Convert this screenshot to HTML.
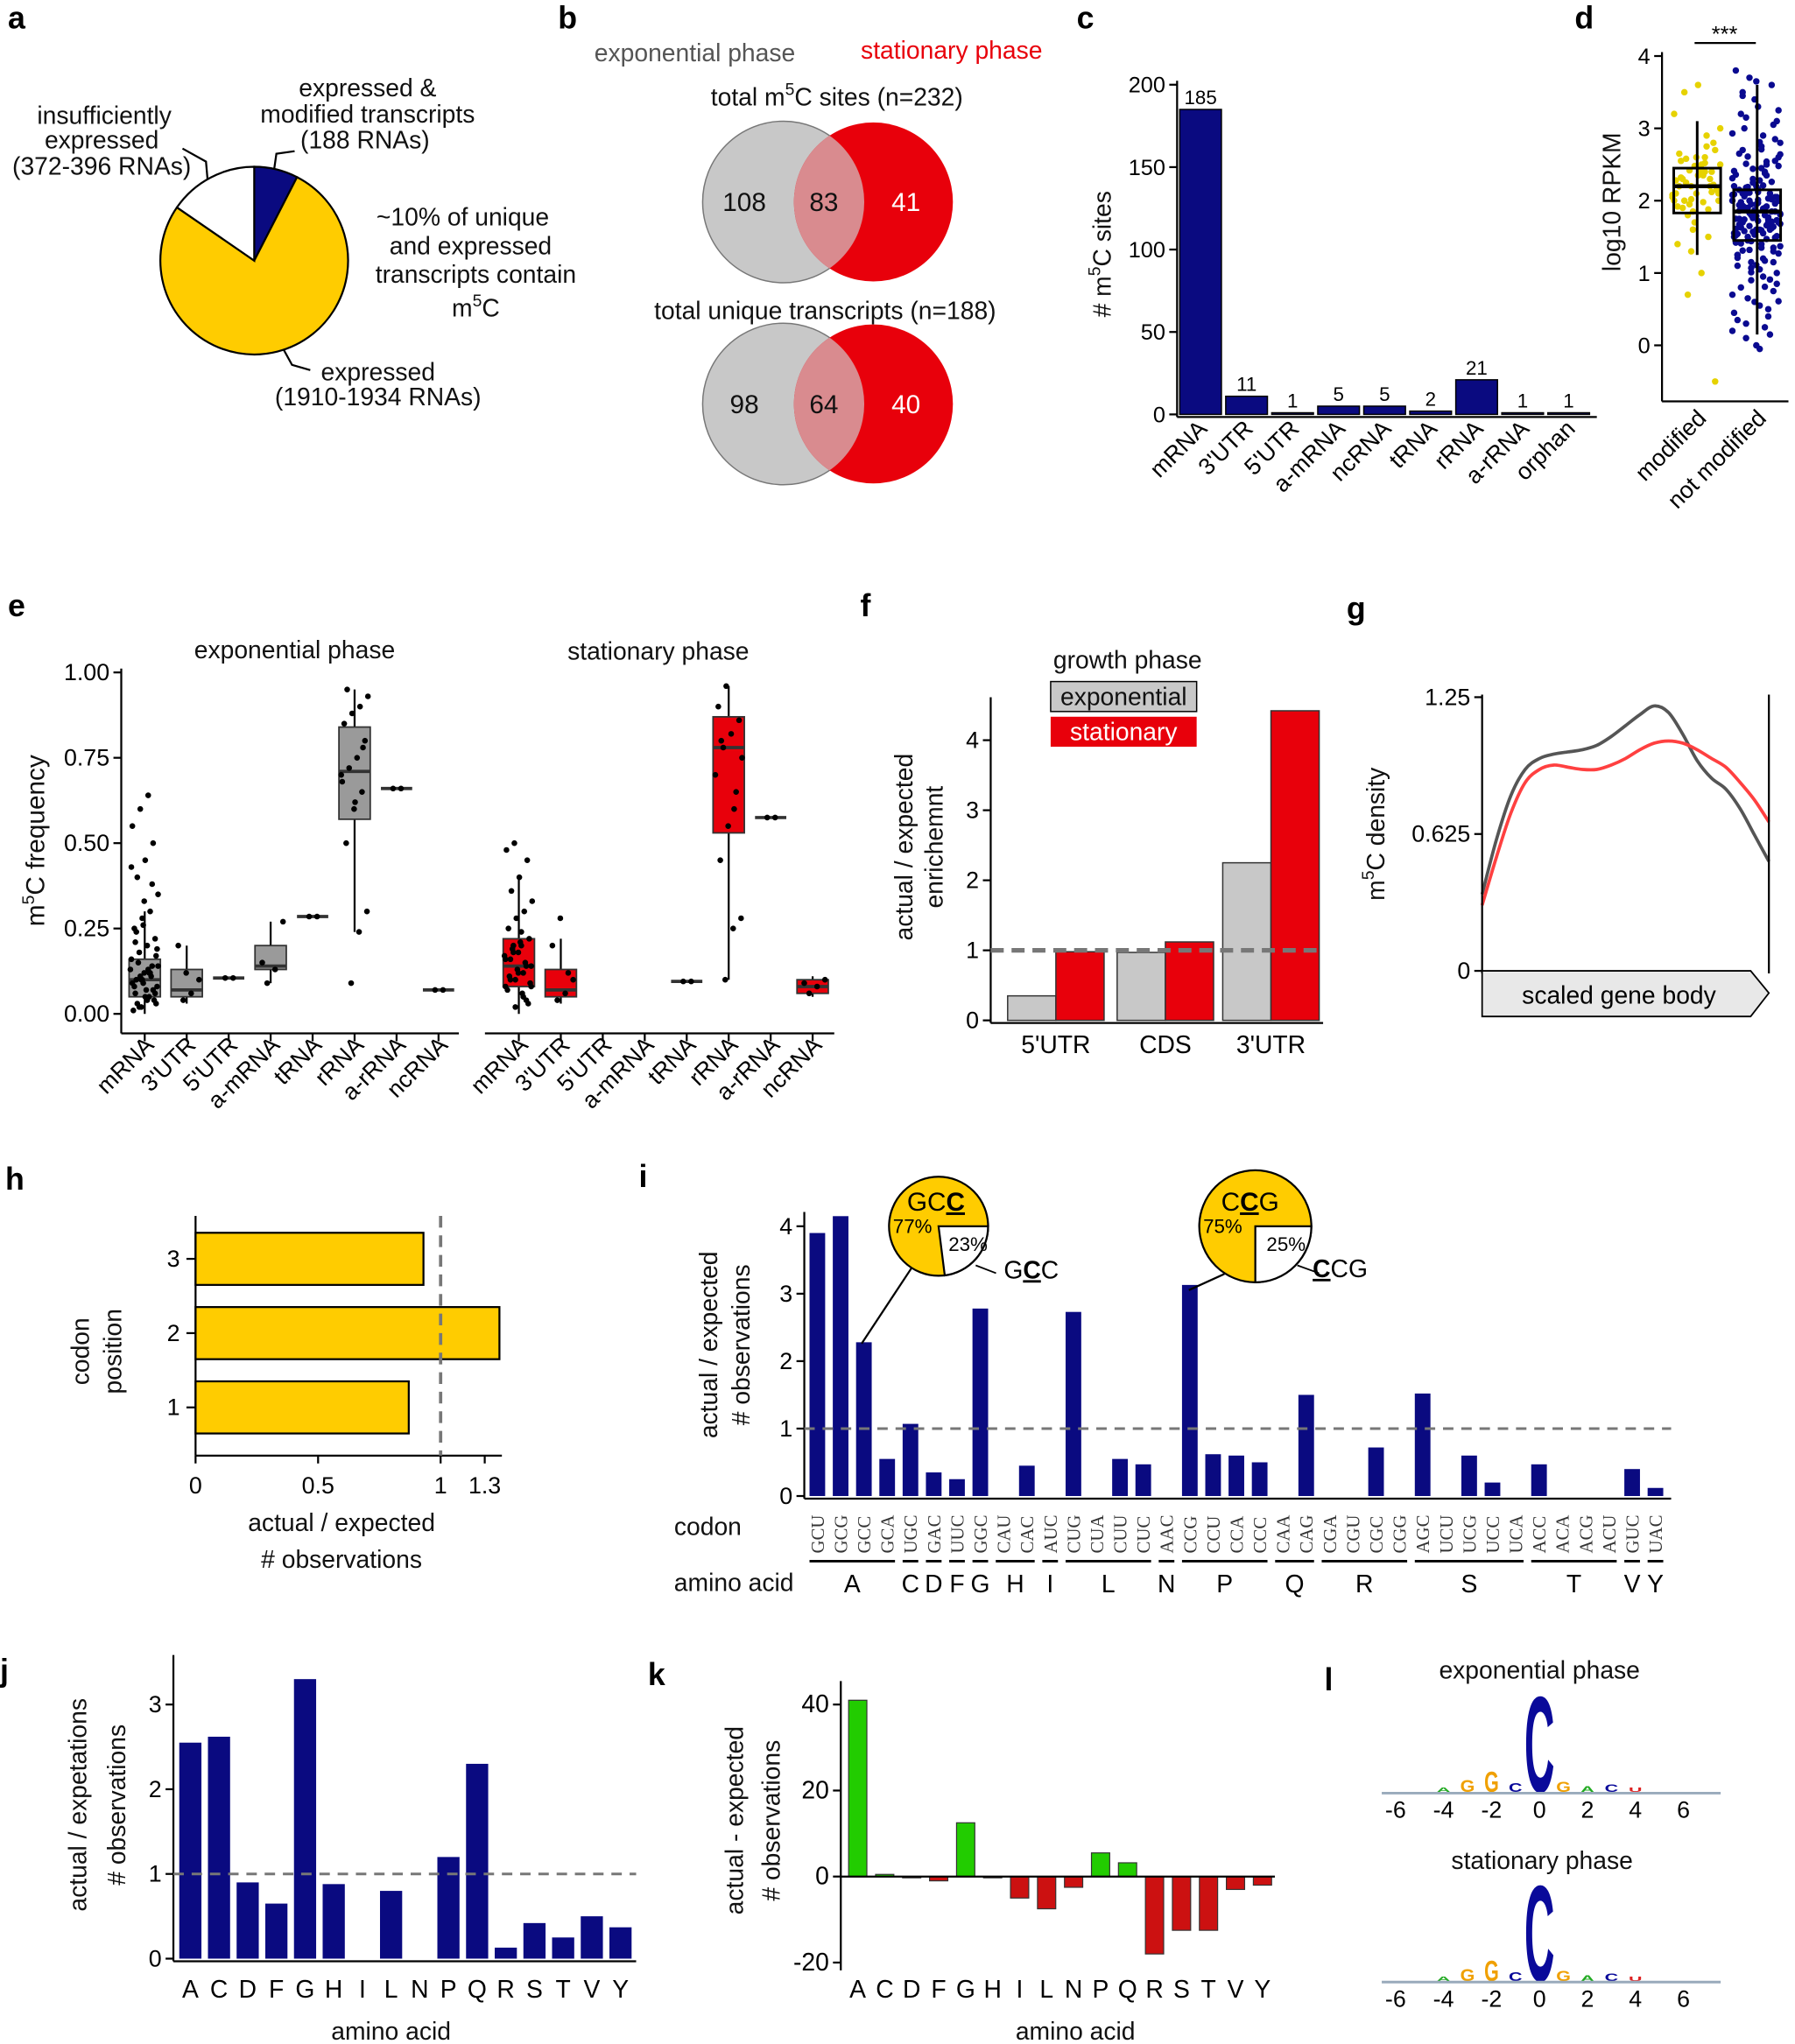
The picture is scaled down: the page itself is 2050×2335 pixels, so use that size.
<!DOCTYPE html>
<html><head><meta charset="utf-8">
<style>
html,body{margin:0;padding:0;background:#fff;}
svg{display:block;font-family:"Liberation Sans",sans-serif;}
.t{font-size:19px;fill:#111;}
.tk{font-size:17px;fill:#111;}
.pl{font-size:24px;font-weight:bold;fill:#000;}
</style></head>
<body>
<svg id="fig" width="2050" height="2335" viewBox="0 0 1377 1568.5" xmlns="http://www.w3.org/2000/svg">
<rect width="1377" height="1568.5" fill="#fff"/>
<text class="pl" x="6" y="22">a</text>
<text class="pl" x="428" y="22">b</text>
<text class="pl" x="826" y="22">c</text>
<text class="pl" x="1208" y="22">d</text>
<text class="pl" x="6" y="473">e</text>
<text class="pl" x="660" y="473">f</text>
<text class="pl" x="1033" y="475">g</text>
<text class="pl" x="4" y="913">h</text>
<text class="pl" x="490" y="911">i</text>
<text class="pl" x="0" y="1290">j</text>
<text class="pl" x="497" y="1293">k</text>
<text class="pl" x="1016" y="1297">l</text>

<g class="t" text-anchor="middle">
<text x="80" y="95">insufficiently</text><text x="78" y="114">expressed</text><text x="78" y="134">(372-396 RNAs)</text>
<text x="282" y="74">expressed &amp;</text><text x="282" y="94">modified transcripts</text><text x="280" y="114">(188 RNAs)</text>
<text x="355" y="173">~10% of unique</text><text x="361" y="195">and expressed</text><text x="365" y="217">transcripts contain</text><text x="365" y="243">m<tspan font-size="13" dy="-8">5</tspan><tspan dy="8">C</tspan></text>
<text x="290" y="292">expressed</text><text x="290" y="311">(1910-1934 RNAs)</text>
</g>
<g stroke="#000" stroke-width="1.5" fill="none">
<polyline points="140,114 158,124 162,170"/>
<polyline points="226,116 212,118 206,160"/>
<polyline points="238,284 224,280 202,240"/>
</g>

<text class="t" x="533" y="47" text-anchor="middle" style="fill:#555">exponential phase</text>
<text class="t" x="730" y="45" text-anchor="middle" style="fill:#e8000b">stationary phase</text>
<text class="t" x="642" y="81" text-anchor="middle">total m<tspan font-size="13" dy="-8">5</tspan><tspan dy="8">C sites (n=232)</tspan></text>
<text class="t" x="633" y="245" text-anchor="middle">total unique transcripts (n=188)</text>

<text class="t" transform="translate(852,195) rotate(-90)" text-anchor="middle"># m<tspan font-size="13" dy="-8">5</tspan><tspan dy="8">C sites</tspan></text>
<text class="t" transform="translate(1243,155) rotate(-90)" text-anchor="middle">log10 RPKM</text>
<text class="t" x="226" y="505" text-anchor="middle">exponential phase</text>
<text class="t" x="505" y="506" text-anchor="middle">stationary phase</text>
<text class="t" transform="translate(34,645) rotate(-90)" text-anchor="middle" style="font-size:20px">m<tspan font-size="13" dy="-8">5</tspan><tspan dy="8">C frequency</tspan></text>
<text class="t" transform="translate(700,650) rotate(-90)" text-anchor="middle">actual / expected</text>
<text class="t" transform="translate(723,650) rotate(-90)" text-anchor="middle">enrichemnt</text>
<text class="t" x="865" y="513" text-anchor="middle">growth phase</text>
<rect x="806" y="523" width="112" height="23" fill="#c8c8c8" stroke="#000"/>
<text class="t" x="862" y="541" text-anchor="middle">exponential</text>
<rect x="806" y="550" width="112" height="23" fill="#e8000b"/>
<text class="t" x="862" y="568" text-anchor="middle" style="fill:#fff">stationary</text>
<text class="t" transform="translate(1062,640) rotate(-90)" text-anchor="middle">m<tspan font-size="13" dy="-8">5</tspan><tspan dy="8">C density</tspan></text>
<text class="t" transform="translate(68,1037) rotate(-90)" text-anchor="middle">codon</text>
<text class="t" transform="translate(93,1037) rotate(-90)" text-anchor="middle">position</text>
<text class="t" x="262" y="1175" text-anchor="middle">actual / expected</text>
<text class="t" x="262" y="1203" text-anchor="middle"># observations</text>
<text class="t" transform="translate(550,1032) rotate(-90)" text-anchor="middle">actual / expected</text>
<text class="t" transform="translate(575,1032) rotate(-90)" text-anchor="middle"># observations</text>
<text class="t" x="543" y="1178" text-anchor="middle">codon</text>
<text class="t" x="563" y="1221" text-anchor="middle">amino acid</text>
<text class="t" transform="translate(66,1385) rotate(-90)" text-anchor="middle">actual / expetations</text>
<text class="t" transform="translate(96,1385) rotate(-90)" text-anchor="middle"># observations</text>
<text class="t" x="300" y="1565" text-anchor="middle">amino acid</text>
<text class="t" transform="translate(570,1397) rotate(-90)" text-anchor="middle">actual - expected</text>
<text class="t" transform="translate(598,1397) rotate(-90)" text-anchor="middle"># observations</text>
<text class="t" x="825" y="1565" text-anchor="middle">amino acid</text>
<text class="t" x="1181" y="1288" text-anchor="middle">exponential phase</text>
<text class="t" x="1183" y="1434" text-anchor="middle">stationary phase</text>
</svg>
<script>
const pieLabels=['modified','expressed','insufficient'];
const pieValues=[188,1922,384];
const vennTopValues=[108,83,41];
const vennBottomValues=[98,64,40];
const cCats=['mRNA',"3'UTR","5'UTR",'a-mRNA','ncRNA','tRNA','rRNA','a-rRNA','orphan'];
const cVals=[185,11,1,5,5,2,21,1,1];
const cTicks=[0,50,100,150,200];
const dGroups=['modified','not modified'];
const dQ1=[1.83,1.45],dMed=[2.2,1.85],dQ3=[2.45,2.15],dLo=[1.25,0.15],dHi=[3.1,3.6];
const dTicks=[0,1,2,3,4];
const dModPts=[2.2,2.4,2.1,1.9,2.6,2.3,2.0,1.8,2.5,2.7,2.2,1.6,2.9,3.0,3.5,3.6,2.4,2.1,1.95,2.35,2.15,2.55,1.7,1.5,2.05,2.25,2.45,2.8,1.4,1.3,2.6,2.0,2.3,2.1,2.2,3.2,0.7,1.0,-0.5,2.65,1.85,2.75,2.5,2.0,2.35,2.12,2.28,2.42,1.98,2.18,2.32,2.48,1.88,2.08,2.58,2.38,2.22,1.92,2.02,2.52];
const dNotPts=[1.8,1.9,2.0,1.7,1.6,2.1,2.2,1.5,1.4,1.85,1.75,2.3,2.5,2.8,3.0,3.3,3.6,3.8,3.7,1.2,1.0,0.8,0.6,0.4,0.2,0.1,-0.05,1.3,1.1,0.9,2.4,2.6,2.7,1.95,1.65,1.55,1.45,1.35,2.05,2.15,2.25,2.35,1.82,1.88,1.72,1.62,1.52,2.0,2.9,3.1,3.2,3.4,0.5,0.7,0.3,1.05,1.15,1.25,1.95,1.8,1.7,2.1,2.2,1.6,1.5,1.9,2.45,2.55,2.65,1.78,1.92,1.68,1.58,2.12,2.02,1.42,1.32,0.95,0.85,1.98,1.84,1.74,2.08,2.18,2.28,1.64,1.54,1.44,2.38,2.48,3.5,0.0,0.15,0.45,0.65,2.75,2.85,1.86,1.76,1.66,1.81,1.91,2.01,1.71,1.61,2.11,2.21,1.51,1.41,1.87,1.77,2.31,2.51,2.81,3.05,1.21,1.01,0.81,0.61,1.31,1.11,0.91,2.41,2.61,2.71,1.96,1.67,1.57,1.47,1.37,2.06,2.16,2.26,2.36,1.83,1.89,1.73,1.63,1.53,2.03,2.93,3.15,0.55,0.75,0.35,1.07,1.17,1.27,1.93,1.79,1.69,2.09,2.19,1.59,1.49,1.94,2.44,2.54,2.64,1.74,1.97,1.85,1.75,1.65,1.55,2.05,1.9,1.8,1.7,2.0,2.1,1.6,1.35,1.25,1.15,0.25,3.25,3.45,3.65];
const eCats=['mRNA',"3'UTR","5'UTR",'a-mRNA','tRNA','rRNA','a-rRNA','ncRNA'];
const eTicks=[0,0.25,0.5,0.75,1.0];
const eTickLabels=['0.00','0.25','0.50','0.75','1.00'];
const eExpQ1=[0.05,0.05,0.105,0.13,0.285,0.57,0.66,0.07];
const eExpMed=[0.10,0.07,0.105,0.14,0.285,0.71,0.66,0.07];
const eExpQ3=[0.16,0.13,0.105,0.2,0.285,0.84,0.66,0.07];
const eExpLo=[0,0.03,0.105,0.09,0.285,0.24,0.66,0.07];
const eExpHi=[0.3,0.2,0.105,0.27,0.285,0.95,0.66,0.07];
const eExpPts=[[0.02,0.05,0.08,0.1,0.12,0.14,0.16,0.18,0.2,0.22,0.25,0.28,0.3,0.35,0.4,0.45,0.5,0.55,0.6,0.64,0.03,0.06,0.09,0.11,0.13,0.15,0.07,0.04,0.01,0.1,0.12,0.19,0.24,0.33,0.38,0.43,0.02,0.04,0.06,0.08,0.1,0.12,0.14,0.03,0.05,0.07,0.09,0.11,0.13,0.17,0.21,0.26],[0.04,0.06,0.1,0.2,0.12],[0.105,0.105],[0.09,0.13,0.27,0.15],[0.285,0.285],[0.09,0.24,0.3,0.5,0.6,0.65,0.7,0.72,0.75,0.8,0.85,0.88,0.9,0.93,0.95,0.62,0.78,0.68],[0.66,0.66],[0.07,0.07]];
const eStatQ1=[0.08,0.05,null,null,0.095,0.53,0.575,0.06];
const eStatMed=[0.14,0.07,null,null,0.095,0.78,0.575,0.08];
const eStatQ3=[0.22,0.13,null,null,0.095,0.87,0.575,0.1];
const eStatLo=[0,0.03,null,null,0.095,0.1,0.575,0.05];
const eStatHi=[0.4,0.22,null,null,0.095,0.96,0.575,0.11];
const eStatPts=[[0.02,0.05,0.08,0.1,0.12,0.14,0.16,0.18,0.2,0.22,0.25,0.28,0.3,0.33,0.36,0.4,0.45,0.48,0.5,0.06,0.09,0.11,0.13,0.15,0.17,0.19,0.21,0.03,0.07,0.1,0.12,0.14,0.16,0.18,0.04,0.08,0.2,0.24],[0.04,0.06,0.1,0.2,0.28,0.12],[],[],[0.095,0.095],[0.1,0.25,0.28,0.45,0.55,0.65,0.7,0.78,0.82,0.86,0.9,0.96,0.6,0.75,0.8],[0.575,0.575],[0.06,0.08,0.1,0.09]];
const fCats=["5'UTR",'CDS',"3'UTR"];
const fExp=[0.35,0.97,2.25];
const fStat=[0.98,1.12,4.42];
const fTicks=[0,1,2,3,4];
const gX=[0,0.05,0.1,0.15,0.2,0.25,0.3,0.35,0.4,0.45,0.5,0.55,0.6,0.65,0.7,0.75,0.8,0.85,0.9,0.95,1.0];
const gExp=[0.35,0.6,0.8,0.92,0.97,0.99,1.0,1.01,1.03,1.07,1.12,1.17,1.21,1.18,1.08,0.96,0.88,0.83,0.74,0.62,0.5];
const gStat=[0.3,0.52,0.72,0.86,0.92,0.94,0.93,0.92,0.92,0.94,0.97,1.01,1.04,1.05,1.04,1.01,0.97,0.93,0.86,0.78,0.68];
const gTicks=[0,0.625,1.25];
const gTickLabels=['0','0.625','1.25'];
const hPos=[1,2,3];
const hVals=[0.87,1.24,0.93];
const hTicks=[0,0.5,1,1.18];
const hTickLabels=['0','0.5','1','1.3'];
const iCodons=['GCU','GCG','GCC','GCA','UGC','GAC','UUC','GGC','CAU','CAC','AUC','CUG','CUA','CUU','CUC','AAC','CCG','CCU','CCA','CCC','CAA','CAG','CGA','CGU','CGC','CGG','AGC','UCU','UCG','UCC','UCA','ACC','ACA','ACG','ACU','GUC','UAC'];
const iVals=[3.9,4.15,2.28,0.55,1.07,0.35,0.25,2.78,0,0.45,0,2.73,0,0.55,0.47,0,3.13,0.62,0.6,0.5,0,1.5,0,0,0.72,0,1.52,0,0.6,0.2,0,0.47,0,0,0,0.4,0.12];
const iAmino=['A','C','D','F','G','H','I','L','N','P','Q','R','S','T','V','Y'];
const iAminoStart=[0,4,5,6,7,8,10,11,15,16,20,22,26,31,35,36];
const iAminoEnd=[3,4,5,6,7,9,10,14,15,19,21,25,30,34,35,36];
const iTicks=[0,1,2,3,4];
const jCats=['A','C','D','F','G','H','I','L','N','P','Q','R','S','T','V','Y'];
const jVals=[2.55,2.62,0.9,0.65,3.3,0.88,0,0.8,0,1.2,2.3,0.13,0.42,0.25,0.5,0.37];
const jTicks=[0,1,2,3];
const kCats=['A','C','D','F','G','H','I','L','N','P','Q','R','S','T','V','Y'];
const kVals=[41,0.5,-0.3,-1,12.5,-0.3,-5,-7.5,-2.5,5.5,3.2,-18,-12.5,-12.5,-3,-2];
const kTicks=[-20,0,20,40];
const lTicks=[-6,-4,-2,0,2,4,6];

const NS='http://www.w3.org/2000/svg';
const svg=document.getElementById('fig');
function mk(tag,attrs,parent){const e=document.createElementNS(NS,tag);for(const k in attrs)e.setAttribute(k,attrs[k]);(parent||svg).appendChild(e);return e;}
function tx(str,attrs,parent){const e=mk('text',attrs,parent);e.textContent=str;return e;}
function line(x1,y1,x2,y2,name,extra){const l=mk('line',Object.assign({x1:x1,y1:y1,x2:x2,y2:y2,stroke:'#000','stroke-width':1.5},extra||{}));


return l;}
function yTicks(ticks,labels,x,yf,prefix,size){ticks.forEach((t,i)=>{line(x-6,yf(t),x,yf(t),prefix+'-tick');
const s=tx(labels?labels[i]:String(t),{x:x-9,y:yf(t)+6,'text-anchor':'end','font-size':size||17});

});}
function seed(i){return ((i*37+11)%29)/29-0.5;}

(function(){const cx=195,cy=200,r=72;const tot=pieValues.reduce((a,b)=>a+b,0);const cols=['#0a0a80','#ffcc00','#ffffff'];let a0=0;
pieValues.forEach((v,i)=>{const a1=a0+v/tot*2*Math.PI;const x0=cx+r*Math.sin(a0),y0=cy-r*Math.cos(a0),x1=cx+r*Math.sin(a1),y1=cy-r*Math.cos(a1);
const p=mk('path',{d:`M${cx},${cy}L${x0},${y0}A${r},${r} 0 ${a1-a0>Math.PI?1:0} 1 ${x1},${y1}Z`,fill:cols[i],stroke:'#000','stroke-width':1.5});


a0=a1;});})();

function venn(cy,vals,tag){const g=mk('circle',{cx:601,cy:cy,r:62,fill:'#c8c8c8',stroke:'#777','stroke-width':1});


const r=mk('circle',{cx:670,cy:cy,r:61,fill:'#e8000b'});


const clipId='clip'+tag;const cp=mk('clipPath',{id:clipId});mk('circle',{cx:601,cy:cy,r:62},cp);
const o=mk('circle',{cx:670,cy:cy,r:61,fill:'#d98b8f','clip-path':`url(#${clipId})`});


[571,632,695].forEach((x,i)=>{const t=tx(String(vals[i]),{x:x,y:cy+7,'text-anchor':'middle','font-size':20,fill:i==2?'#fff':'#111'});

});}
venn(155,vennTopValues,'top');venn(310,vennBottomValues,'bottom');

(function(){const yC=v=>318-v*1.265;const xC=i=>905+i*35.3;
cCats.forEach((c,i)=>{const b=mk('rect',{x:xC(i),y:yC(cVals[i]),width:32,height:318-yC(cVals[i]),fill:'#0a0a80',stroke:'#000','stroke-width':1});


const v=tx(String(cVals[i]),{x:xC(i)+16,y:yC(cVals[i])-4,'text-anchor':'middle','font-size':15});


const l=tx(c,{transform:`translate(${xC(i)+22},330) rotate(-45)`,'text-anchor':'end','font-size':18});

});
line(903,62,903,320,'c-y-axis');line(903,320,1225,320,'c-x-axis');
yTicks(cTicks,null,903,yC,'c-y');})();

(function(){const yD=v=>265-v*55.5;const xs=[1302,1348];const cols=['#e6d200','#0a0a90'];const pts=[dModPts,dNotPts];
pts.forEach((arr,g)=>{arr.forEach((v,i)=>{const c=mk('circle',{cx:xs[g]+seed(i)*38,cy:yD(v),r:2.5,fill:cols[g]});

});});
xs.forEach((x,g)=>{line(x,yD(dLo[g]),x,yD(dHi[g]),'whisker-'+dGroups[g],{'stroke-width':2});
const b=mk('rect',{x:x-18,y:yD(dQ3[g]),width:36,height:yD(dQ1[g])-yD(dQ3[g]),fill:'none',stroke:'#000','stroke-width':2});


line(x-18,yD(dMed[g]),x+18,yD(dMed[g]),'median-'+dGroups[g],{'stroke-width':3});
const l=tx(dGroups[g],{transform:`translate(${x+8},322) rotate(-45)`,'text-anchor':'end','font-size':18});

});
line(1275,40,1275,308,'d-y-axis');line(1275,308,1372,308,'d-x-axis');
yTicks(dTicks,null,1275,yD,'d-y');
line(1300,33,1347,33,'significance-bar');
const s=tx('***',{x:1323,y:32,'text-anchor':'middle','font-size':17});

})();

(function(){const yE=v=>778-v*262;
function panel(x0,step,q1,med,q3,lo,hi,pts,fill,tag){eCats.forEach((c,i)=>{const x=x0+i*step;
if(med[i]!==null){line(x,yE(lo[i]),x,yE(hi[i]),'whisker-'+tag+'-'+c);
const h=Math.max(yE(q1[i])-yE(q3[i]),0);
if(h>1){const b=mk('rect',{x:x-12,y:yE(q3[i]),width:24,height:h,fill:fill,stroke:'#333','stroke-width':1.2});

}
line(x-12,yE(med[i]),x+12,yE(med[i]),'median-'+tag+'-'+c,{'stroke-width':2.5,stroke:'#333'});}
pts[i].forEach((v,j)=>{const p=mk('circle',{cx:x+seed(j)*22,cy:yE(v),r:2.2,fill:'#000'});

});
const l=tx(c,{transform:`translate(${x+8},803) rotate(-45)`,'text-anchor':'end','font-size':18});


line(x,793,x,799,'x-tick');});}
panel(111,32.2,eExpQ1,eExpMed,eExpQ3,eExpLo,eExpHi,eExpPts,'#9a9a9a','exp');
panel(398,32.2,eStatQ1,eStatMed,eStatQ3,eStatLo,eStatHi,eStatPts,'#e8000b','stat');
line(93,513,93,793,'e-y-axis');line(93,793,352,793,'e-left-x-axis');line(372,793,640,793,'e-right-x-axis');
yTicks(eTicks,eTickLabels,93,yE,'e-y',18);})();

(function(){const yF=v=>783-v*53.75;const xs=[773,857,938];
fCats.forEach((c,i)=>{const b1=mk('rect',{x:xs[i],y:yF(fExp[i]),width:37,height:783-yF(fExp[i]),fill:'#c8c8c8',stroke:'#333','stroke-width':1});


const b2=mk('rect',{x:xs[i]+37,y:yF(fStat[i]),width:37,height:783-yF(fStat[i]),fill:'#e8000b',stroke:'#333','stroke-width':1});


const l=tx(c,{x:xs[i]+37,y:808,'text-anchor':'middle','font-size':19});

});
line(760,535,760,785,'f-y-axis');line(760,785,1015,785,'f-x-axis');
line(760,yF(1),1015,yF(1),'reference-line',{stroke:'#777','stroke-width':3.5,'stroke-dasharray':'10,6'});
yTicks(fTicks,null,760,yF,'f-y',18);})();

(function(){const yG=v=>745-v*168;const xG=f=>1137+f*220;
function smooth(xs,ys){let d=`M${xG(xs[0])},${yG(ys[0])}`;for(let i=0;i<xs.length-1;i++){const p0=[xG(xs[Math.max(i-1,0)]),yG(ys[Math.max(i-1,0)])],p1=[xG(xs[i]),yG(ys[i])],p2=[xG(xs[i+1]),yG(ys[i+1])],p3=[xG(xs[Math.min(i+2,xs.length-1)]),yG(ys[Math.min(i+2,xs.length-1)])];
d+=`C${p1[0]+(p2[0]-p0[0])/6},${p1[1]+(p2[1]-p0[1])/6} ${p2[0]-(p3[0]-p1[0])/6},${p2[1]-(p3[1]-p1[1])/6} ${p2[0]},${p2[1]}`;}return d;}
const a=mk('path',{d:smooth(gX,gExp),fill:'none',stroke:'#555','stroke-width':2.5});


const b=mk('path',{d:smooth(gX,gStat),fill:'none',stroke:'#ff4040','stroke-width':2.5});


line(1137,533,1137,747,'g-y-axis');line(1357,533,1357,747,'g-right-axis');
yTicks(gTicks,gTickLabels,1137,yG,'g-y',18);
const ar=mk('path',{d:'M1137,745L1343,745L1357,762L1343,780L1137,780Z',fill:'#e8e8e8',stroke:'#000','stroke-width':1.2});


const t=tx('scaled gene body',{x:1242,y:770,'text-anchor':'middle','font-size':19});

})();

(function(){const xH=v=>150+188*v;const yH=p=>1137-57*p;
hPos.forEach((p,i)=>{const b=mk('rect',{x:150,y:yH(p)-20,width:xH(hVals[i])-150,height:40,fill:'#ffcc00',stroke:'#000','stroke-width':1.5});


line(143,yH(p),150,yH(p),'h-y-tick');
const l=tx(String(p),{x:138,y:yH(p)+6,'text-anchor':'end','font-size':18});

});
line(150,933,150,1117,'h-y-axis');line(150,1117,385,1117,'h-x-axis');
line(338,933,338,1117,'reference-line',{stroke:'#777','stroke-width':2.5,'stroke-dasharray':'9,6'});
hTicks.forEach((t,i)=>{line(xH(t),1117,xH(t),1123,'h-x-tick');
const l=tx(hTickLabels[i],{x:xH(t),y:1146,'text-anchor':'middle','font-size':18});

});})();

(function(){const yI=v=>1148-v*51.75;const xI=i=>627+i*17.86;
iCodons.forEach((c,i)=>{if(iVals[i]>0){const b=mk('rect',{x:xI(i)-6,y:yI(iVals[i]),width:12,height:1148-yI(iVals[i]),fill:'#0a0a80'});

}
const l=tx(c,{transform:`translate(${xI(i)+5},1192) rotate(-90)`,'font-size':14,'font-family':'Liberation Serif, serif',fill:'#333'});

});
iAmino.forEach((a,k)=>{const x1=xI(iAminoStart[k])-7,x2=xI(iAminoEnd[k])+7;line(x1+1,1198,x2-1,1198,'amino-group-line',{'stroke-width':2});
const l=tx(a,{x:(x1+x2)/2,y:1222,'text-anchor':'middle','font-size':19});

});
line(617,930,617,1150,'i-y-axis');line(617,1150,1282,1150,'i-x-axis');
line(617,yI(1),1282,yI(1),'reference-line',{stroke:'#777','stroke-width':2,'stroke-dasharray':'8,6'});
yTicks(iTicks,null,617,yI,'i-y',18);
function inset(cx,cy,r,frac,title,pA,pB,lx,ly){const c=mk('circle',{cx:cx,cy:cy,r:r,fill:'#ffcc00',stroke:'#000','stroke-width':1.5});


const a1=frac*2*Math.PI;const w=mk('path',{d:`M${cx},${cy}L${cx+r},${cy}A${r},${r} 0 0 1 ${cx+r*Math.cos(a1)},${cy+r*Math.sin(a1)}Z`,fill:'#fff',stroke:'#000','stroke-width':1.5});


line(cx-r*0.55,cy+r*0.85,lx,ly,'inset-leader');
const t1=tx(pA,{x:cx-r+3,y:cy+5,'font-size':15});


const t2=tx(pB,{x:cx+r*0.2,y:cy+19,'font-size':15});


line(cx+r*0.75,cy+30,cx+r*0.95+8,cy+36,'inset-minor-leader',{'stroke-width':1.2});}
inset(720,941,38,0.23,'GCC','77%','23%',661,1031);
inset(963,941,43,0.25,'CCG','75%','25%',912,990);
const g1=tx('',{x:718,y:929,'text-anchor':'middle','font-size':20});g1.innerHTML='GC<tspan font-weight="bold" text-decoration="underline">C</tspan>';


const g2=tx('',{x:959,y:929,'text-anchor':'middle','font-size':20});g2.innerHTML='C<tspan font-weight="bold" text-decoration="underline">C</tspan>G';


const g3=tx('',{x:770,y:981,'font-size':19});g3.innerHTML='G<tspan font-weight="bold" text-decoration="underline">C</tspan>C';


const g4=tx('',{x:1007,y:980,'font-size':19});g4.innerHTML='<tspan font-weight="bold" text-decoration="underline">C</tspan>CG';

})();

(function(){const yJ=v=>1503-v*65;const xJ=i=>146+i*22;
jCats.forEach((c,i)=>{if(jVals[i]>0){const b=mk('rect',{x:xJ(i)-8.5,y:yJ(jVals[i]),width:17,height:1503-yJ(jVals[i]),fill:'#0a0a80'});

}
const l=tx(c,{x:xJ(i),y:1533,'text-anchor':'middle','font-size':19});

});
line(133,1270,133,1505,'j-y-axis');line(133,1505,488,1505,'j-x-axis');
line(133,yJ(1),488,yJ(1),'reference-line',{stroke:'#777','stroke-width':2,'stroke-dasharray':'8,6'});
yTicks(jTicks,null,133,yJ,'j-y',18);})();

(function(){const yK=v=>1440-v*3.3;const xK=i=>658+i*20.7;
kCats.forEach((c,i)=>{const v=kVals[i];const b=mk('rect',{x:xK(i)-7,y:Math.min(yK(v),1440),width:14,height:Math.abs(v*3.3),fill:v>=0?'#22cc00':'#cc1111',stroke:'#333','stroke-width':0.8});


const l=tx(c,{x:xK(i),y:1533,'text-anchor':'middle','font-size':19});

});
line(645,1290,645,1512,'k-y-axis');line(645,1440,978,1440,'k-zero-axis');
yTicks(kTicks,null,645,yK,'k-y',19);})();

(function(){const xL=p=>1181+p*18.4;
function logo(base,tag){const c=tx('C',{transform:`translate(${xL(0)},${base}) scale(0.32,1.05)`,'text-anchor':'middle','font-size':100,'font-weight':'bold',fill:'#0a0a9a'});


[[-2,'G','#f0a000',1.4],[-3,'G','#f0a000',0.8],[-1,'C','#0a0a9a',0.6],[1,'G','#f0a000',0.7],[3,'C','#0a0a9a',0.5],[2,'A','#22aa22',0.4],[-4,'A','#22aa22',0.3],[4,'U','#dd2222',0.3]].forEach((s,i)=>{const t=tx(s[1],{transform:`translate(${xL(s[0])},${base}) scale(0.9,${s[3]})`,'text-anchor':'middle','font-size':16,'font-weight':'bold',fill:s[2]});

});
line(1060,base+1,1320,base+1,'logo-'+tag+'-axis',{stroke:'#9ab','stroke-width':2});
lTicks.forEach(p=>{const l=tx(String(p),{x:xL(p),y:base+20,'text-anchor':'middle','font-size':18});

});}
logo(1375,'exponential');logo(1520,'stationary');})();
</script>
</body></html>
